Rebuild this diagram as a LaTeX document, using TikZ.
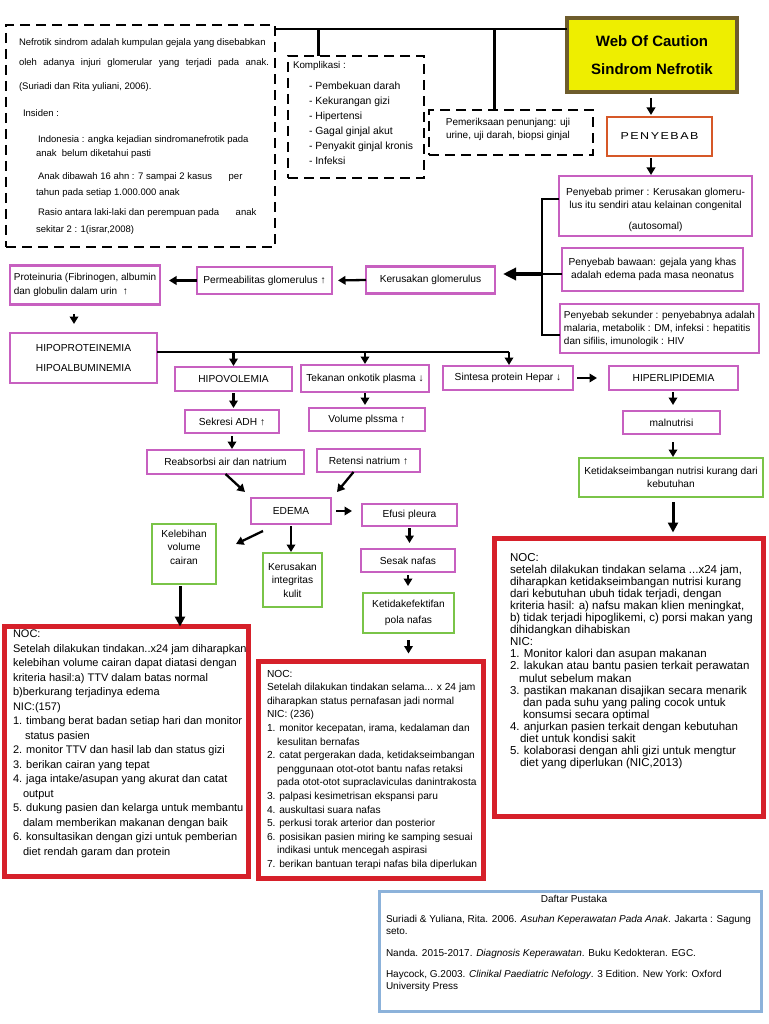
\documentclass[tikz,border=0pt]{standalone}
\usepackage{graphicx}
\usepackage{fontspec}
\setmainfont{Liberation Sans}
\usetikzlibrary{arrows.meta,calc}
\definecolor{pinkb}{RGB}{199,96,192}
\definecolor{greenb}{RGB}{122,196,72}
\definecolor{redb}{RGB}{214,32,42}
\definecolor{orangeb}{RGB}{214,88,40}
\definecolor{yellowf}{RGB}{238,238,0}
\definecolor{oliveb}{RGB}{110,92,44}
\definecolor{blueb}{RGB}{140,178,218}
\begin{document}
\begin{tikzpicture}[x=1pt,y=-1pt,
  every node/.style={inner sep=0pt, outer sep=0pt, text=black},
  base/.style={font=\fontsize{10.2}{12.5}\selectfont, align=center},
  pbox/.style={base, draw=pinkb, line width=2.6pt},
  gbox/.style={base, draw=greenb, line width=2.6pt},
  rbox/.style={draw=redb, line width=5pt},
  dbox/.style={draw=black, line width=2.6pt, dash pattern=on 10pt off 6pt},
  arr/.style={line width=2.3pt, -{Triangle[width=8.5pt,length=7.5pt]}},
  arrb/.style={line width=3pt, -{Triangle[width=10pt,length=10pt]}},
  sz/.style 2 args={minimum width=#1pt, minimum height=#2pt},
]
\fill[white] (0,0) rectangle (768,1024);
\useasboundingbox (0,0) rectangle (768,1024);

% ---------- definition box ----------
\node[dbox, sz={269}{222}] (def) at (140.5,136) {};
\begin{scope}[every node/.append style={font=\fontsize{9.5}{11}\selectfont, anchor=mid west}]
\node (d1) at (19,43) {Nefrotik sindrom adalah kumpulan gejala yang disebabkan};
\node (d2) at (19,63) {\makebox[250pt][s]{oleh adanya injuri glomerular yang terjadi pada anak.}};
\node (d3) at (19,87) {(Suriadi dan Rita yuliani, 2006).};
\node (d4) at (23,114) {Insiden :};
\node (d5) at (38,140) {Indonesia : angka kejadian sindromanefrotik pada};
\node (d6) at (36,154) {anak\ \ belum diketahui pasti};
\node (d7) at (38,177) {Anak dibawah 16 ahn : 7 sampai 2 kasus\hspace{14pt} per};
\node (d8) at (36,193) {tahun pada setiap 1.000.000 anak};
\node (d9) at (38,213) {Rasio antara laki-laki dan perempuan pada\hspace{14pt} anak};
\node (d10) at (36,230) {sekitar 2 : 1(israr,2008)};
\end{scope}

% ---------- komplikasi ----------
\node[dbox, sz={136}{122}] (komp) at (356,117) {};
\node[anchor=mid west, font=\fontsize{9.8}{12}\selectfont] (k0) at (293,66) {Komplikasi :};
\node[anchor=north west, align=left, font=\fontsize{10.4}{15}\selectfont] (k1) at (309,82)
  {- Pembekuan darah\\- Kekurangan gizi\\- Hipertensi\\- Gagal ginjal akut\\- Penyakit ginjal kronis\\- Infeksi};

% ---------- pemeriksaan ----------
\node[dbox, sz={164}{45}] (pem) at (511,132.5) {};
\node[base, font=\fontsize{10}{13}\selectfont] (pemt) at (508,129) {Pemeriksaan penunjang: uji\\urine, uji darah, biopsi ginjal};

% ---------- title ----------
\node[draw=oliveb, fill=yellowf, line width=3.5pt, sz={170}{74}, align=center,
      font=\bfseries\fontsize{15}{28}\selectfont] (title) at (652,55) {Web Of Caution\\Sindrom Nefrotik};

% top connectors
\coordinate (s1) at (318,29);
\coordinate (s2) at (494,29);
\draw[line width=1.5pt] (def.east |- s1) -- (s1 -| title.west);
\draw[line width=3pt] (s1) -- (s1 |- komp.north);
\draw[line width=3pt] (s2) -- (s2 |- pem.north);

% ---------- penyebab ----------
\node[draw=orangeb, line width=2pt, sz={105}{39}, font=\fontsize{10}{12}\selectfont] (pen) at (659.5,136.5)
  {\scalebox{1.25}[1]{P\kern1.2pt E\kern1.2pt N\kern1.2pt Y\kern1.2pt E\kern1.2pt B\kern1.2pt A\kern1.2pt B}};
\node[draw=pinkb, line width=2.6pt, sz={193}{60}] (pp) at (655.5,206) {};
\node[base] (ppt) at (655.5,210) {Penyebab primer : Kerusakan glomeru-\\lus itu sendiri atau kelainan congenital\\[9pt](autosomal)};
\node[pbox, sz={181}{43}] (pb) at (652.5,269.5) {Penyebab bawaan: gejala yang khas\\adalah edema pada masa neonatus};
\node[pbox, sz={199}{49}, align=left, font=\fontsize{10}{13}\selectfont] (ps) at (659.5,328.5)
  {Penyebab sekunder : penyebabnya adalah\\malaria, metabolik : DM, infeksi : hepatitis\\dan sifilis, imunologik : HIV};

\coordinate (xa) at (651,0);
\draw[arr, shorten <=6pt, shorten >=2pt] (xa |- title.south) -- (xa |- pen.north);
\draw[arr, shorten <=2pt, shorten >=1pt] (xa |- pen.south) -- (xa |- pp.north);

% bracket
\coordinate (bt) at (542,199);
\coordinate (bm) at (542,274);
\coordinate (bb) at (542,335);
\draw[line width=2.6pt] (pp.west |- bt) -- (bt) -- (bb) -- (ps.west |- bb);
\draw[line width=2.6pt] (bm) -- (pb.west |- bm);

% ---------- glomerulus chain ----------
\node[pbox, sz={129}{27.5}] (kg) at (430.5,280) {Kerusakan glomerulus};
\node[pbox, sz={135}{27}] (perm) at (264.5,280.5) {Permeabilitas glomerulus ↑};
\node[pbox, sz={150}{39.5}, align=left, font=\fontsize{10}{14.5}\selectfont] (prot) at (85,285)
  {Proteinuria (Fibrinogen, albumin\\dan globulin dalam urin\ \ ↑};
\node[pbox, sz={147}{50}, font=\fontsize{10.2}{20}\selectfont] (hipo) at (83.5,358) {HIPOPROTEINEMIA\\HIPOALBUMINEMIA};

\draw[line width=4pt, -{Triangle[width=12pt,length=13pt]}, shorten >=8pt] (bm) -- (kg.east |- bm);
\draw[arr, shorten >=6pt] (kg.west) -- (perm.east);
\draw[arr, shorten >=9pt] (perm.west) -- (prot.east |- perm.west);
\coordinate (xb) at (74,0);
\draw[arr, shorten <=9pt, shorten >=9pt] (xb |- prot.south) -- (xb |- hipo.north);

% ---------- second level ----------
\node[pbox, sz={117}{24}] (hipov) at (233.5,379) {HIPOVOLEMIA};
\node[pbox, sz={128}{27}] (tek) at (365,378.5) {Tekanan onkotik plasma ↓};
\node[pbox, sz={130}{24}] (sint) at (508,378) {Sintesa protein Hepar ↓};
\node[pbox, sz={129}{24}] (hiperl) at (673.5,378) {HIPERLIPIDEMIA};
\node[pbox, sz={97}{23}] (maln) at (671.5,422.5) {malnutrisi};
\node[pbox, sz={94}{23}] (sek) at (232,421.5) {Sekresi ADH ↑};
\node[pbox, sz={116}{23}] (vol) at (367,419.5) {Volume plssma ↑};
\node[pbox, sz={157}{24}] (reab) at (225.5,462) {Reabsorbsi air dan natrium};
\node[pbox, sz={103}{23}] (ret) at (368.5,460.5) {Retensi natrium ↑};
\node[pbox, sz={80}{26}] (edema) at (291,511) {EDEMA};
\node[pbox, sz={95}{22}] (efusi) at (409.5,515) {Efusi pleura};
\node[pbox, sz={94}{23}] (sesak) at (408,560.5) {Sesak nafas};
\node[gbox, sz={64}{60}, font=\fontsize{10.2}{13.5}\selectfont] (kel) at (184,554) {Kelebihan\\volume\\cairan\\\mbox{}};
\node[gbox, sz={59}{54}, font=\fontsize{10.2}{13.5}\selectfont] (kint) at (292.5,580) {Kerusakan\\integritas\\kulit};
\node[gbox, sz={91}{40}, font=\fontsize{10.2}{16}\selectfont] (ketef) at (408.5,613) {Ketidakefektifan\\pola nafas};
\node[gbox, sz={184}{39}, font=\fontsize{10.2}{13}\selectfont] (ketnut) at (671,477.5) {Ketidakseimbangan nutrisi kurang dari\\kebutuhan};

\coordinate (hl) at (509,352);
\draw[line width=2.2pt] (hipo.east |- hl) -- (hl);
\draw[arr, shorten >=1pt] (hipov.north |- hl) -- (hipov.north);
\draw[arr, shorten >=1pt] (tek.north |- hl) -- (tek.north);
\draw[arr, shorten >=1pt] (hl) -- (hl |- sint.north);

\draw[arr, shorten <=2pt, shorten >=2pt] (hipov.south) -- (hipov.south |- sek.north);
\draw[arr, shorten <=3pt, shorten >=1pt] (sek.south) -- (sek.south |- reab.north);
\draw[arr, shorten <=1pt, shorten >=3pt] (tek.south) -- (tek.south |- vol.north);
\draw[arr] (reab.south) -- ([shift={(-6,-6)}]edema.north west);
\draw[arr] ([xshift=-15pt]ret.south) -- ([shift={(6,-6)}]edema.north east);
\draw[arr, shorten <=5pt, shorten >=10pt] (edema.east) -- (edema.east -| efusi.west);
\draw[arr, shorten <=2pt, shorten >=6pt] (efusi.south) -- (efusi.south |- sesak.north);
\draw[arr, shorten <=3pt, shorten >=7pt] (sesak.south) -- (sesak.south |- ketef.north);
\draw[arr] ([shift={(12,7)}]edema.south west) -- ([shift={(20,-10)}]kel.east);
\draw[arr, shorten <=2pt, shorten >=1pt] (edema.south) -- (edema.south |- kint.north);
\draw[arr, shorten <=4pt, shorten >=12pt] (sint.east) -- (sint.east -| hiperl.west);
\coordinate (xc) at (673,0);
\draw[arr, shorten <=2pt, shorten >=6pt] (xc |- hiperl.south) -- (xc |- maln.north);
\draw[arr, shorten <=8pt, shorten >=1pt] (xc |- maln.south) -- (xc |- ketnut.north);

% ---------- NOC / NIC boxes ----------
\node[rbox, sz={244}{250}] (noc1) at (126.5,751.5) {};
\node[rbox, sz={225}{217}] (noc2) at (371,770) {};
\node[rbox, sz={269}{278}] (noc3) at (629,677.5) {};

\draw[arrb, shorten <=2pt, shorten >=0pt] ([xshift=-4pt]kel.south) -- ([xshift=-4pt]kel.south |- noc1.north);
\draw[arr, shorten <=7pt, shorten >=8pt] (ketef.south) -- (ketef.south |- noc2.north);
\draw[arrb, shorten <=5pt, shorten >=6pt] (xc |- ketnut.south) -- (xc |- noc3.north);

\node[anchor=north west, align=left, font=\fontsize{11}{14.5}\selectfont] (n1t) at (13,630) {NOC:\\
Setelah dilakukan tindakan..x24 jam diharapkan\\
kelebihan volume cairan dapat diatasi dengan\\
kriteria hasil:a) TTV dalam batas normal\\
b)berkurang terjadinya edema\\
NIC:(157)\\
1. timbang berat badan setiap hari dan monitor\\
\hspace*{12pt}status pasien\\
2. monitor TTV dan hasil lab dan status gizi\\
3. berikan cairan yang tepat\\
4. jaga intake/asupan yang akurat dan catat\\
\hspace*{10pt}output\\
5. dukung pasien dan kelarga untuk membantu\\
\hspace*{10pt}dalam memberikan makanan dengan baik\\
6. konsultasikan dengan gizi untuk pemberian\\
\hspace*{10pt}diet rendah garam dan protein};

\node[anchor=north west, align=left, font=\fontsize{10.2}{13.6}\selectfont] (n2t) at (267,670) {NOC:\\
Setelah dilakukan tindakan selama... x 24 jam\\
diharapkan status pernafasan jadi normal\\
NIC: (236)\\
1. monitor kecepatan, irama, kedalaman dan\\
\hspace*{10pt}kesulitan bernafas\\
2. catat pergerakan dada, ketidakseimbangan\\
\hspace*{10pt}penggunaan otot-otot bantu nafas retaksi\\
\hspace*{10pt}pada otot-otot supraclaviculas danintrakosta\\
3. palpasi kesimetrisan ekspansi paru\\
4. auskultasi suara nafas\\
5. perkusi torak arterior dan posterior\\
6. posisikan pasien miring ke samping sesuai\\
\hspace*{10pt}indikasi untuk mencegah aspirasi\\
7. berikan bantuan terapi nafas bila diperlukan};

\node[anchor=north west, align=left, font=\fontsize{11.5}{12.1}\selectfont] (n3t) at (510,553) {NOC:\\
setelah dilakukan tindakan selama ...x24 jam,\\
diharapkan ketidakseimbangan nutrisi kurang\\
dari kebutuhan ubuh tidak terjadi, dengan\\
kriteria hasil: a) nafsu makan klien meningkat,\\
b) tidak terjadi hipoglikemi, c) porsi makan yang\\
dihidangkan dihabiskan\\
NIC:\\
1. Monitor kalori dan asupan makanan\\
2. lakukan atau bantu pasien terkait perawatan\\
\hspace*{9pt}mulut sebelum makan\\
3. pastikan makanan disajikan secara menarik\\
\hspace*{13pt}dan pada suhu yang paling cocok untuk\\
\hspace*{13pt}konsumsi secara optimal\\
4. anjurkan pasien terkait dengan kebutuhan\\
\hspace*{10pt}diet untuk kondisi sakit\\
5. kolaborasi dengan ahli gizi untuk mengtur\\
\hspace*{10pt}diet yang diperlukan (NIC,2013)};

% ---------- Daftar Pustaka ----------
\node[draw=blueb, line width=3pt, sz={382}{120}] (dp) at (570,951) {};
\node[font=\fontsize{10}{12}\selectfont] (dpt) at (574,899) {Daftar Pustaka};
\node[anchor=north west, align=left, font=\fontsize{10}{12}\selectfont] (dpl) at (386,915.5)
 {Suriadi \& Yuliana, Rita. 2006. \textit{Asuhan Keperawatan Pada Anak}. Jakarta : Sagung\\
seto.\\[10pt]
Nanda. 2015-2017. \textit{Diagnosis Keperawatan}. Buku Kedokteran. EGC.\\[9pt]
Haycock, G.2003. \textit{Clinikal Paediatric Nefology}. 3 Edition. New York: Oxford\\
University Press};
\end{tikzpicture}
\end{document}
